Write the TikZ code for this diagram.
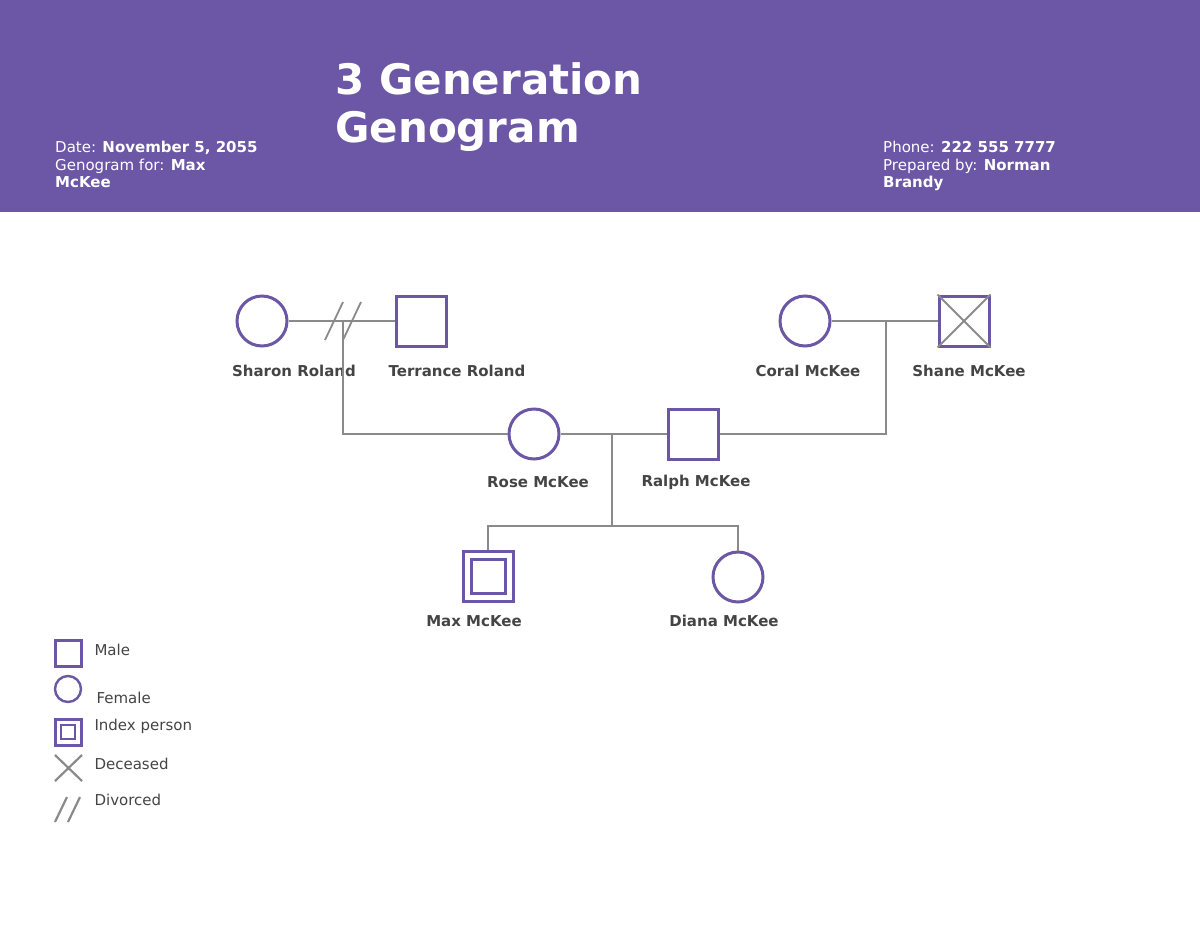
\documentclass[tikz,border=0pt]{standalone}
\usepackage{fontspec}
\setmainfont{DejaVu Sans}
\definecolor{pur}{HTML}{6B57A5}
\definecolor{ln}{HTML}{8A8A8A}
\definecolor{tx}{HTML}{444444}
\begin{document}
\begin{tikzpicture}[x=1pt,y=-1pt,
  fem/.style={circle,draw=pur,line width=3pt,minimum size=50pt,inner sep=0pt},
  mal/.style={rectangle,draw=pur,line width=3pt,minimum size=50pt,inner sep=0pt},
  con/.style={draw=ln,line width=1.8pt},
  lab/.style={text=tx,font=\fontsize{15}{18}\selectfont\bfseries},
  leg/.style={text=tx,font=\fontsize{15}{18}\selectfont,anchor=west},
  hd/.style={text=white,font=\fontsize{15}{17.5}\selectfont,anchor=north west,align=left}]
\useasboundingbox (0,0) rectangle (1200,927);
\fill[pur] (0,0) rectangle (1200,212);
\node[text=white,font=\fontsize{42}{48}\selectfont\bfseries,anchor=north west,align=left,inner sep=0pt] (title) at (335,62) {3 Generation\\Genogram};
\node[hd,inner sep=0pt] (info1) at (55,141) {Date: \textbf{November 5, 2055}\\Genogram for: \textbf{Max}\\\textbf{McKee}};
\node[hd,inner sep=0pt] (info2) at (883,141) {Phone: \textbf{222 555 7777}\\Prepared by: \textbf{Norman}\\\textbf{Brandy}};
% people
\node[fem] (sharon) at (262,321) {};
\node[mal] (terr) at (421,321) {};
\node[fem] (coral) at (805,321) {};
\node[mal] (shane) at (964,321) {};
\node[fem] (rose) at (534,434) {};
\node[mal] (ralph) at (693,434) {};
\node[mal] (max) at (488,576) {};
\node[mal,minimum size=34pt] (maxin) at (488,576) {};
\node[fem] (diana) at (738,577) {};
\draw[ln,line width=1.8pt] (shane.north west) -- (shane.south east) (shane.north east) -- (shane.south west);
% labels
\node[lab] (l1) at (294,371) {Sharon Roland};
\node[lab] (l2) at (457,371) {Terrance Roland};
\node[lab] (l3) at (808,371) {Coral McKee};
\node[lab] (l4) at (969,371) {Shane McKee};
\node[lab] (l5) at (538,482) {Rose McKee};
\node[lab] (l6) at (696,482) {Ralph McKee};
\node[lab] (l7) at (474,621) {Max McKee};
\node[lab] (l8) at (724,621) {Diana McKee};
% connectors
\coordinate (m1) at (343,321);
\coordinate (m2) at (886,321);
\coordinate (m3) at (612,434);
\draw[con] (sharon) -- (terr);
\draw[con] (325,340) -- (343,302) (343,340) -- (361,302);
\draw[con] (m1) |- (rose);
\draw[con] (coral) -- (shane);
\draw[con] (m2) |- (ralph);
\draw[con] (rose) -- (ralph);
\draw[con] (m3) -- (612,526) -| (max.north);
\draw[con] (612,526) -| (diana.north);
% legend
\node[mal,minimum size=26pt] (lm) at (68,653) {};
\node[fem,minimum size=26pt,line width=2.4pt] (lf) at (68,689) {};
\node[mal,minimum size=26pt] (li) at (68,732) {};
\node[draw=pur,line width=2pt,minimum size=14pt,inner sep=0pt] (li2) at (68,732) {};
\draw[ln,line width=2.2pt] (55,755) -- (82,781) (82,755) -- (55,781);
\draw[ln,line width=2.2pt] (55,822) -- (67,797) (68,822) -- (80,797);
\node[leg] (t1) at (91,650) {Male};
\node[leg] (t2) at (93,698) {Female};
\node[leg] (t3) at (91,726) {Index person};
\node[leg] (t4) at (91,764) {Deceased};
\node[leg] (t5) at (91,800) {Divorced};
\end{tikzpicture}
\end{document}
